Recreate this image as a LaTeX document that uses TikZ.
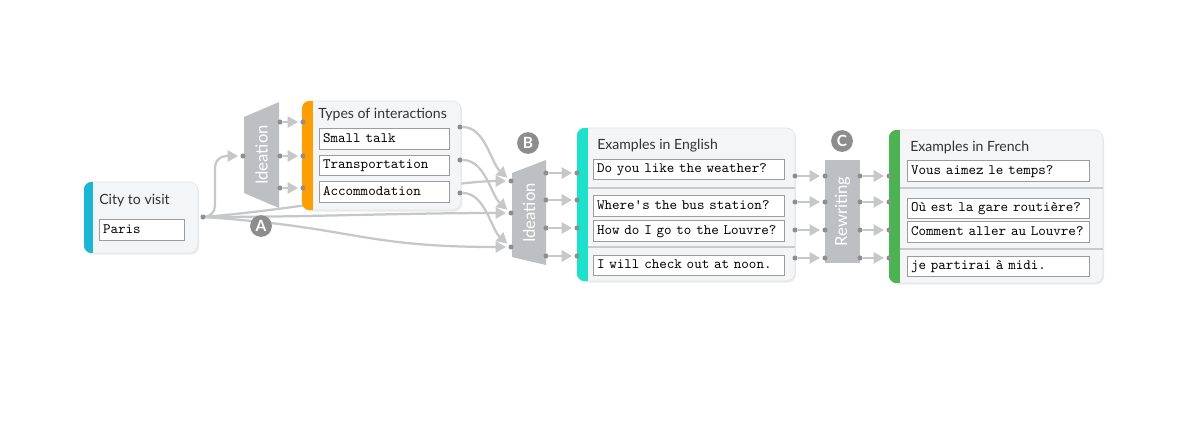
\documentclass[tikz,border=0pt]{standalone}
\usepackage{fontspec}
\setmainfont{Lato}
\usepackage{xcolor}
\usepackage{tikz}
\usetikzlibrary{arrows.meta,positioning,fit,shadows,calc}

\definecolor{cardbg}{HTML}{F4F5F7}
\definecolor{cardline}{HTML}{E1E2E4}
\definecolor{fieldline}{HTML}{9C9C9C}
\definecolor{sepgray}{HTML}{C9CACC}
\definecolor{boxgray}{HTML}{BEBFC2}
\definecolor{linkgray}{HTML}{C6C7C9}
\definecolor{dotgray}{HTML}{8E8F91}
\definecolor{badgegray}{HTML}{8D8D8D}
\definecolor{citybar}{HTML}{1BB6D3}
\definecolor{typesbar}{HTML}{FF9E00}
\definecolor{englishbar}{HTML}{1DE1C9}
\definecolor{frenchbar}{HTML}{4DB352}

\pgfdeclarelayer{bg}
\pgfdeclarelayer{links}
\pgfsetlayers{bg,links,main}

\begin{document}
\begin{tikzpicture}[x=0.025cm, y=-0.025cm, >={Triangle[length=7.5pt, width=8pt]},
  card/.style={draw=cardline, fill=cardbg, line width=0.4pt, rounded corners=6pt, inner sep=0pt,
    drop shadow={opacity=0.15, shadow xshift=0.8pt, shadow yshift=-1.2pt}},
  title/.style={anchor=base west, inner sep=0pt, text=black!80, font=\fontsize{10}{12}\selectfont},
  field/.style={draw=fieldline, fill=white, line width=0.6pt, anchor=west, align=left,
    inner xsep=2.6pt, minimum height=14.2pt, text height=6.5pt, text depth=1.6pt,
    font=\ttfamily\fontsize{10.2}{12}\selectfont},
  dot/.style={circle, fill=dotgray, inner sep=0pt, minimum size=3.6pt},
  link/.style={draw=linkgray, line width=1.6pt, ->, shorten >=1.5pt},
  sepline/.style={draw=sepgray, line width=1.4pt},
  shapelabel/.style={rotate=90, text=white, font=\fontsize{11.8}{13}\selectfont},
  procbox/.style={shapelabel, fill=boxgray, inner sep=0pt, minimum width=73.3pt, minimum height=24.9pt},
  badge/.style={circle, fill=badgegray, text=white, inner sep=0pt, minimum size=15.5pt,
    font=\bfseries\fontsize{11}{11}\selectfont}]

  \begin{pgfonlayer}{bg}
    \fill[white] (0,0) rectangle (1200,420);
  \end{pgfonlayer}
  \useasboundingbox (0,0) rectangle (1200,420);

  % city card
  \node[card, fit={(84,182) (198,253)}] (city) {};
  \begin{scope}
    \clip[rounded corners=6pt] (city.north west) rectangle (city.south east);
    \fill[citybar] (city.north west) rectangle ($(city.south west)+(9,0)$);
  \end{scope}
  \node[title] (citytitle) at (99,204) {City to visit};
  \node[field, text width=55.3pt] (paris) at (99,230) {Paris};

  % first ideation
  \fill[boxgray] (244,117) -- (279,102) -- (279,208) -- (244,193) -- cycle;
  \node[shapelabel] (idea1) at (261.5,155) {Ideation};

  % types card
  \node[card, fit={(302,101) (461,210)}] (types) {};
  \begin{scope}
    \clip[rounded corners=6pt] (types.north west) rectangle (types.south east);
    \fill[typesbar] (types.north west) rectangle ($(types.south west)+(11,0)$);
  \end{scope}
  \node[title] (typestitle) at (318,118) {Types of interactions};
  \node[field, text width=87.3pt] (talk) at (319,139) {Small talk};
  \node[field, text width=87.3pt] (transport) at (319,165.5) {Transportation};
  \node[field, text width=87.3pt] (stay) at (319,192) {Accommodation};

  % second ideation
  \fill[boxgray] (512,173) -- (546,160) -- (546,265) -- (512,257) -- cycle;
  \node[shapelabel] (idea2) at (529,213) {Ideation};

  % english card
  \node[card, fit={(577,128) (795,281)}] (english) {};
  \begin{scope}
    \clip[rounded corners=6pt] (english.north west) rectangle (english.south east);
    \fill[englishbar] (english.north west) rectangle ($(english.south west)+(11,0)$);
  \end{scope}
  \draw[sepline] (588,188) -- (795,188);
  \draw[sepline] (588,247) -- (795,247);
  \node[title] (entitle) at (597,149) {Examples in English};
  \node[field, text width=130.7pt] (en1) at (593,169.5) {Do you like the weather?};
  \node[field, text width=130.7pt] (en2) at (593,206) {Where's the bus station?};
  \node[field, text width=130.7pt] (en3) at (593,231) {How do I go to the Louvre?};
  \node[field, text width=130.7pt] (en4) at (593,265.5) {I will check out at noon.};

  % rewriting
  \node[procbox] (rewrite) at (842.5,211.5) {Rewriting};

  % french card
  \node[card, fit={(889,130) (1103,283)}] (french) {};
  \begin{scope}
    \clip[rounded corners=6pt] (french.north west) rectangle (french.south east);
    \fill[frenchbar] (french.north west) rectangle ($(french.south west)+(11,0)$);
  \end{scope}
  \draw[sepline] (900,188) -- (1103,188);
  \draw[sepline] (900,249) -- (1103,249);
  \node[title] (frtitle) at (910,151) {Examples in French};
  \node[field, text width=124.3pt] (fr1) at (907,171) {Vous aimez le temps?};
  \node[field, text width=124.3pt] (fr2) at (907,208.5) {Où est la gare routière?};
  \node[field, text width=124.3pt] (fr3) at (907,232) {Comment aller au Louvre?};
  \node[field, text width=124.3pt] (fr4) at (907,266.5) {je partirai à midi.};

  % ports
  \node[dot] (cityout) at (203,217) {};
  \node[dot] (i1in) at (243,156) {};
  \node[dot] (i1out1) at (280,122) {};
  \node[dot] (i1out2) at (280,156) {};
  \node[dot] (i1out3) at (280,188) {};
  \node[dot] (tin1) at (303,122) {};
  \node[dot] (tin2) at (303,156) {};
  \node[dot] (tin3) at (303,188) {};
  \node[dot] (tout1) at (460,127) {};
  \node[dot] (tout2) at (460,160) {};
  \node[dot] (tout3) at (460,193) {};
  \node[dot] (i2in1) at (511,181) {};
  \node[dot] (i2in2) at (511,213) {};
  \node[dot] (i2in3) at (511,247) {};
  \node[dot] (i2out1) at (546,173) {};
  \node[dot] (i2out2) at (546,200) {};
  \node[dot] (i2out3) at (546,228) {};
  \node[dot] (i2out4) at (546,256) {};
  \node[dot] (enin1) at (577,173) {};
  \node[dot] (enin2) at (577,200) {};
  \node[dot] (enin3) at (577,228) {};
  \node[dot] (enin4) at (577,256) {};
  \node[dot] (enout1) at (795,176) {};
  \node[dot] (enout2) at (795,202) {};
  \node[dot] (enout3) at (795,230) {};
  \node[dot] (enout4) at (795,258) {};
  \node[dot] (rwin1) at (825,176) {};
  \node[dot] (rwin2) at (825,202) {};
  \node[dot] (rwin3) at (825,230) {};
  \node[dot] (rwin4) at (825,258) {};
  \node[dot] (rwout1) at (860,176) {};
  \node[dot] (rwout2) at (860,202) {};
  \node[dot] (rwout3) at (860,230) {};
  \node[dot] (rwout4) at (860,258) {};
  \node[dot] (frin1) at (889,176) {};
  \node[dot] (frin2) at (889,202) {};
  \node[dot] (frin3) at (889,230) {};
  \node[dot] (frin4) at (889,258) {};

  % links
  \begin{pgfonlayer}{links}
    \draw[link, rounded corners=8pt] (cityout) -- ++(12,0) |- (i1in);
    \draw[link] (cityout) .. controls +(100,-8) and +(-60,0) .. (i2in1);
    \draw[link] (cityout) .. controls +(110,0) and +(-110,0) .. (i2in2);
    \draw[link] (cityout) .. controls +(150,10) and +(-150,0) .. (i2in3);
    \draw[link] (i1out1) -- (tin1);
    \draw[link] (i1out2) -- (tin2);
    \draw[link] (i1out3) -- (tin3);
    \draw[link] (tout1) .. controls +(25,0) and +(-20,-18) .. (i2in1);
    \draw[link] (tout2) .. controls +(25,0) and +(-20,-18) .. (i2in2);
    \draw[link] (tout3) .. controls +(25,0) and +(-20,-18) .. (i2in3);
    \draw[link] (i2out1) -- (enin1);
    \draw[link] (i2out2) -- (enin2);
    \draw[link] (i2out3) -- (enin3);
    \draw[link] (i2out4) -- (enin4);
    \draw[link] (enout1) -- (rwin1);
    \draw[link] (enout2) -- (rwin2);
    \draw[link] (enout3) -- (rwin3);
    \draw[link] (enout4) -- (rwin4);
    \draw[link] (rwout1) -- (frin1);
    \draw[link] (rwout2) -- (frin2);
    \draw[link] (rwout3) -- (frin3);
    \draw[link] (rwout4) -- (frin4);
  \end{pgfonlayer}

  \node[badge] (badgeA) at (261,226) {A};
  \node[badge] (badgeB) at (528,143) {B};
  \node[badge] (badgeC) at (842,141) {C};
\end{tikzpicture}
\end{document}
